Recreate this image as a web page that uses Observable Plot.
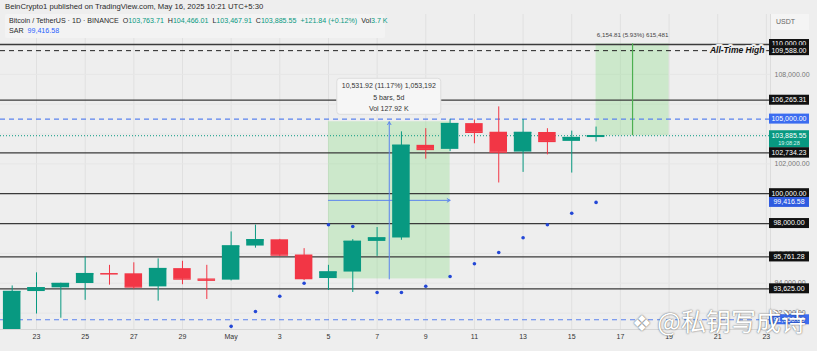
<!DOCTYPE html>
<html><head><meta charset="utf-8">
<script src="https://cdn.jsdelivr.net/npm/d3@7"></script>
<script src="https://cdn.jsdelivr.net/npm/@observablehq/plot@0.6"></script>
<style>
html,body{margin:0;padding:0;background:#eeeeee;}
#wrap{position:relative;width:817px;height:351px;overflow:hidden;font-family:"Liberation Sans",Arial,sans-serif;}
#wrap svg{display:block;position:absolute;left:0;top:0;}
.ov{position:absolute;white-space:nowrap;color:#2a2a2a;}
.g{color:#089981}.b{color:#2962ff}
</style></head><body><div id="wrap"></div>
<script>
// ---------- data ----------
const dates = ["2025-04-22","2025-04-23","2025-04-24","2025-04-25","2025-04-26","2025-04-27","2025-04-28","2025-04-29","2025-04-30","2025-05-01","2025-05-02","2025-05-03","2025-05-04","2025-05-05","2025-05-06","2025-05-07","2025-05-08","2025-05-09","2025-05-10","2025-05-11","2025-05-12","2025-05-13","2025-05-14","2025-05-15","2025-05-16"];
const opens  = [87516,93442,93691,93980,94638,94631,93754,94978,94284,94207,96492,96910,95891,94315,94748,96802,97032,103241,102971,104697,104119,102791,104103,103507,103763.71];
const highs  = [93817,94696,94000,95758,95199,95369,95630,95470,95200,97437,97895,96940,96318,95199,96920,97732,104145,104361,104984,104937,105819,104976,104356,104193,104466.01];
const lows   = [87085,91935,91650,92855,93870,93602,92800,93900,92910,94153,96350,95800,94171,93514,93377,95800,96876,102315,102818,103346,100718,101429,102602,101383,103467.91];
const closes = [93442,93691,93980,94638,94631,93754,94978,94284,94207,96492,96910,95891,94315,94748,96802,97032,103241,102971,104697,104119,102791,104103,103507,103763,103885.55];

const sarDates  = ["2025-05-01","2025-05-02","2025-05-03","2025-05-04","2025-05-05","2025-05-06","2025-05-07","2025-05-08","2025-05-09","2025-05-10","2025-05-11","2025-05-12","2025-05-13","2025-05-14","2025-05-15","2025-05-16"];
const sarValues = [91110,92100,93130,94000,97915,97800,93377,93377,93800,94450,95300,96060,97045,97915,98690,99416.58];

const levelLines  = [110000, 106265.31, 102734.23, 100000, 98000, 95761.28, 93625];
const athLevel    = 109588;
const blueDashed  = [105000, 91550];
const lastPrice   = 103885.55;
const sarLast     = 99416.58;
const countdown   = "19:08:28";

const measure1 = {start:"2025-05-05", end:"2025-05-10", low:94288, high:104819.92};
const measure1Text = ["10,531.92 (11.17%) 1,053,192", "5 bars, 5d", "Vol 127.92 K"];
const measure2 = {start:"2025-05-16", end:"2025-05-19", low:103885.55, high:110040.36};
const measure2Text = "6,154.81 (5.93%) 615,481";

const xTickDates = ["2025-04-23","2025-04-25","2025-04-27","2025-04-29","2025-05-01","2025-05-03","2025-05-05","2025-05-07","2025-05-09","2025-05-11","2025-05-13","2025-05-15","2025-05-17","2025-05-19","2025-05-21","2025-05-23"];
const yGridValues = [92000,94000,96000,98000,100000,102000,104000,106000,108000,110000];
const yLabelValues = [92000,94000,96000,102000,108000]; // the others sit under price tags

// ---------- styles ----------
const GREEN = "#089981", RED = "#f23645", SARBLUE = "#2347d6", BG = "#eeeeee";
const DAY = 864e5;
const D = s => new Date(s + "T00:00:00Z");

const candles = dates.map((d, i) => ({date: D(d), open: opens[i], high: highs[i], low: lows[i], close: closes[i]}));
const colorOf = d => d.close >= d.open ? GREEN : RED;
const sar = sarDates.map((d, i) => ({date: D(d), value: sarValues[i]}));
const m1 = {x1: D(measure1.start), x2: D(measure1.end), y1: measure1.low, y2: measure1.high};
const m1mid = new Date((+m1.x1 + +m1.x2) / 2);
const m2 = {x1: D(measure2.start), x2: D(measure2.end), y1: measure2.low, y2: measure2.high};
const m2mid = new Date((+m2.x1 + +m2.x2) / 2);
const fmt2 = d3.format(",.2f");

const tagList = [
  ...levelLines.map(v => ({v, fill: "#111", text: fmt2(v)})),
  {v: athLevel, fill: "#111", text: fmt2(athLevel)},
  ...blueDashed.map(v => ({v, fill: "#3b6cf0", text: fmt2(v)})),
  {v: sarLast, fill: "#2f5be0", text: fmt2(sarLast)}
];

function tagsMark(index, scales, values, dims) {
  const g = d3.create("svg:g").attr("font-family", "Liberation Sans, Arial, sans-serif");
  const x0 = dims.width - dims.marginRight - 1;
  const tag = (v, fill, text) => {
    const yy = scales.y(v);
    g.append("rect").attr("x", x0).attr("y", yy - 5).attr("width", 40).attr("height", 10).attr("fill", fill);
    g.append("text").attr("x", x0 + 20).attr("y", yy).attr("dy", "0.35em").attr("text-anchor", "middle")
      .attr("fill", "white").attr("font-size", 7).text(text);
  };
  for (const t of tagList) tag(t.v, t.fill, t.text);
  const yp = scales.y(lastPrice);
  g.append("rect").attr("x", x0).attr("y", yp - 5).attr("width", 40).attr("height", 17).attr("fill", GREEN);
  g.append("text").attr("x", x0 + 20).attr("y", yp).attr("dy", "0.35em").attr("text-anchor", "middle")
    .attr("fill", "white").attr("font-size", 7).text(fmt2(lastPrice));
  g.append("text").attr("x", x0 + 20).attr("y", yp + 7.8).attr("dy", "0.35em").attr("text-anchor", "middle")
    .attr("fill", "#d8f3ea").attr("font-size", 5.5).text(countdown);
  tag(102734.23, "#111", fmt2(102734.23));
  return g.node();
}

function measureLabel(index, scales, values, dims) {
  const g = d3.create("svg:g").attr("font-family", "Liberation Sans, Arial, sans-serif");
  const cx = scales.x(m1mid), top = scales.y(m1.y2);
  g.append("rect").attr("x", cx - 52).attr("y", top - 43).attr("width", 104).attr("height", 36).attr("rx", 3)
    .attr("fill", "#f6f6f6").attr("stroke", "#dddddd");
  measure1Text.forEach((t, i) => {
    g.append("text").attr("x", cx).attr("y", top - 35.5 + i * 11.3).attr("dy", "0.35em").attr("text-anchor", "middle")
      .attr("font-size", 7).attr("fill", "#333").text(t);
  });
  return g.node();
}

const chart = Plot.plot({
  width: 817, height: 351,
  marginTop: 14, marginBottom: 22, marginLeft: 0, marginRight: 47,
  style: {background: "transparent", fontFamily: "Liberation Sans, Arial, sans-serif"},
  x: {type: "utc", domain: [new Date(+D("2025-04-22") - 0.48 * DAY), new Date(+D("2025-04-22") + 31.17 * DAY)]},
  y: {domain: [90898, 112011]},
  marks: [
    Plot.gridX(xTickDates.map(D), {stroke: "#e0e0e0", strokeOpacity: 1}),
    Plot.gridY(yGridValues, {stroke: "#e6e6e6", strokeOpacity: 1}),
    Plot.ruleY([90898], {stroke: "#d6d6d6"}),
    Plot.ruleX([new Date(+D("2025-04-22") + 31.17 * DAY)], {stroke: "#dcdcdc"}),
    // measurement boxes
    Plot.rect([m1], {x1: "x1", x2: "x2", y1: "y1", y2: "y2", fill: "#7ddc7a", fillOpacity: 0.3}),
    Plot.rect([m2], {x1: "x1", x2: "x2", y1: "y1", y2: "y2", fill: "#7ddc7a", fillOpacity: 0.3}),
    // horizontal levels
    Plot.ruleY(levelLines, {stroke: "#3a3a3a", strokeWidth: 1.3}),
    Plot.ruleY([athLevel], {stroke: "#222", strokeWidth: 1, strokeDasharray: "5,4"}),
    Plot.ruleY(blueDashed, {stroke: "#5b83ee", strokeWidth: 1.2, strokeDasharray: "5,4"}),
    Plot.ruleY([lastPrice], {stroke: GREEN, strokeWidth: 1, strokeDasharray: "1,2"}),
    Plot.text([athLevel], {y: d => d, frameAnchor: "right", dx: -6, text: () => "All-Time High", textAnchor: "end",
      fontStyle: "italic", fontWeight: "bold", fontSize: 8.5, fill: "#111", stroke: BG, strokeWidth: 4, paintOrder: "stroke"}),
    // measurement arrows
    Plot.arrow([m1], {x1: () => m1mid, x2: () => m1mid, y1: "y1", y2: "y2", stroke: "#5b83ee", strokeWidth: 1, headLength: 5}),
    Plot.arrow([m1], {x1: "x1", x2: "x2", y1: d => (d.y1 + d.y2) / 2, y2: d => (d.y1 + d.y2) / 2, stroke: "#5b83ee", strokeWidth: 1, headLength: 5}),
    Plot.ruleX([m2], {x: () => m2mid, y1: "y1", y2: "y2", stroke: "#4caf50", strokeWidth: 1.2}),
    Plot.text([m2], {x: () => m2mid, y: "y2", dy: -9, text: () => measure2Text, fontSize: 6.2, fill: "#444"}),
    // candles
    Plot.ruleX(candles, {x: "date", y1: "low", y2: "high", stroke: colorOf, strokeWidth: 1, clip: true}),
    Plot.rect(candles, {x1: d => new Date(+d.date - 0.36 * DAY), x2: d => new Date(+d.date + 0.36 * DAY), y1: "open", y2: "close", fill: colorOf, clip: true}),
    Plot.ruleY(candles, {x1: d => new Date(+d.date - 0.36 * DAY), x2: d => new Date(+d.date + 0.36 * DAY), y: "close", stroke: colorOf, strokeWidth: 1.5, clip: true}),
    // SAR
    Plot.dot(sar, {x: "date", y: "value", r: 1.8, fill: SARBLUE, stroke: null, clip: true}),
    measureLabel,
    // axes
    Plot.axisX(xTickDates.map(D), {anchor: "bottom", tickSize: 0, tickPadding: 5, fontSize: 7, fill: "#333",
      tickFormat: d => d.getUTCDate() === 1 ? "May" : String(d.getUTCDate())}),
    Plot.axisY(yLabelValues, {anchor: "right", tickSize: 0, tickPadding: 4, fontSize: 7, fill: "#777", tickFormat: fmt2}),
    tagsMark
  ]
});
const wrap = document.getElementById("wrap");
wrap.appendChild(chart);

// overlays: header, legend, currency, watermark
function ov(html, css) { const d = document.createElement("div"); d.className = "ov"; d.innerHTML = html; Object.assign(d.style, css); wrap.appendChild(d); return d; }
ov("", {left: "5px", top: "14px", width: "380px", height: "24px", background: "#f3f3f3", borderRadius: "2px"});
ov("BeinCrypto1 published on TradingView.com, May 16, 2025 10:21 UTC+5:30", {left: "5px", top: "2px", fontSize: "7.7px"});
ov('Bitcoin / TetherUS · 1D · BINANCE&nbsp; O<span class="g">103,763.71</span>&nbsp; H<span class="g">104,466.01</span>&nbsp; L<span class="g">103,467.91</span>&nbsp; C<span class="g">103,885.55</span>&nbsp; <span class="g">+121.84 (+0.12%)</span>&nbsp; Vol<span class="g">3.7 K</span>',
  {left: "9px", top: "17px", fontSize: "7.1px"});
ov('SAR&nbsp; <span class="b">99,416.58</span>', {left: "9px", top: "27px", fontSize: "7.1px"});
ov("", {left: "771px", top: "14px", width: "38px", height: "16px", background: "#f4f4f4"});
ov("USDT", {left: "776px", top: "18px", fontSize: "7px", color: "#666"});
ov('<span style="font-family:DejaVu Sans;font-size:22px">❖</span> @私钥写成诗',
  {left: "632px", top: "305px", fontSize: "25px", color: "#ffffff", fontFamily: '"Noto Sans CJK SC", sans-serif',
   textShadow: "0 0 2px rgba(0,0,0,0.45), 0 0 1px rgba(0,0,0,0.4)", lineHeight: "30px"});
</script></body></html>
